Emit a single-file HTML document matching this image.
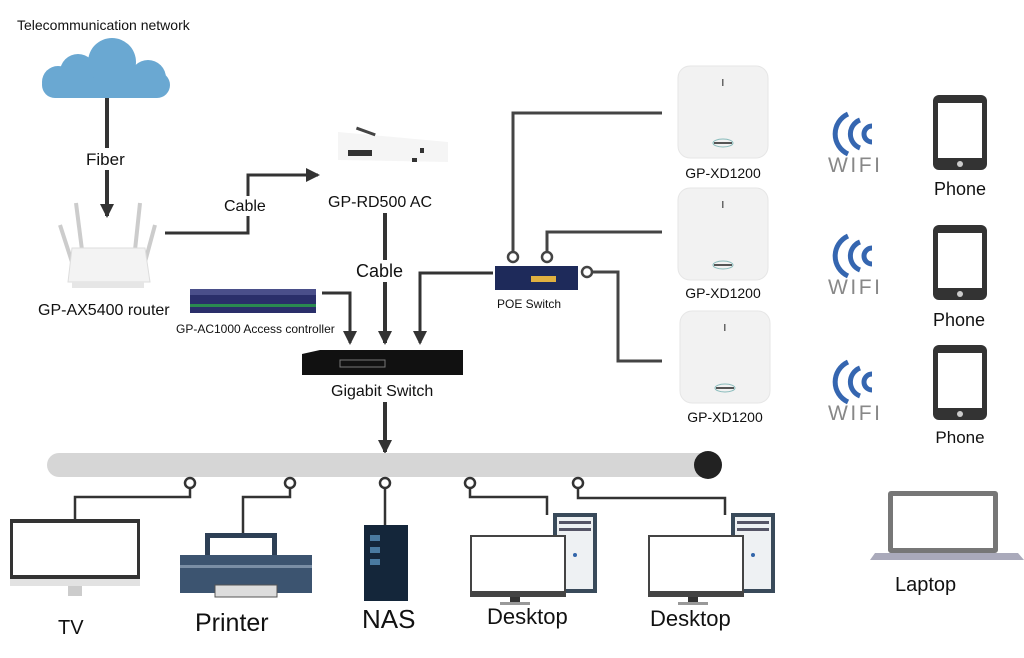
<!DOCTYPE html>
<html><head><meta charset="utf-8"><style>
html,body{margin:0;padding:0;background:#fff;}
svg{display:block;}
text{font-family:"Liberation Sans",sans-serif;fill:#111;}
</style></head><body>
<svg width="1024" height="658" viewBox="0 0 1024 658" xmlns="http://www.w3.org/2000/svg">
<defs>
<marker id="ar" markerWidth="14" markerHeight="14" refX="12" refY="7" orient="auto" markerUnits="userSpaceOnUse">
<path d="M0,0 L14,7 L0,14 z" fill="#333"/></marker>
<g id="ap"><rect x="0" y="0" width="90" height="92" rx="12" fill="#f2f2f2" stroke="#e6e6e6"/><rect x="44" y="13" width="1.5" height="7" fill="#666"/><ellipse cx="45" cy="77" rx="10" ry="4" fill="none" stroke="#8bb" stroke-width="1"/><rect x="36" y="76" width="18" height="2" fill="#555"/></g>
<g id="wifi"><path d="M18,4 A22,22 0 0 0 18,44" fill="none" stroke="#3566b0" stroke-width="5"/><path d="M30,10 A15,15 0 0 0 30,38" fill="none" stroke="#3566b0" stroke-width="5"/><path d="M42,16 A8,8 0 0 0 42,32" fill="none" stroke="#3566b0" stroke-width="5"/><text x="-2" y="62" font-size="21" style="fill:#888" textLength="52">WIFI</text></g>
<g id="phone"><rect x="0" y="0" width="54" height="75" rx="6" fill="#333"/><rect x="5" y="8" width="44" height="55" fill="#fff"/><circle cx="27" cy="69" r="3" fill="#ccc"/></g>
<g id="desk"><rect x="83" y="0" width="44" height="80" fill="#394a5a"/><rect x="87" y="4" width="36" height="72" fill="#eef1f3"/><rect x="89" y="8" width="32" height="3" fill="#556"/><rect x="89" y="15" width="32" height="3" fill="#556"/><circle cx="105" cy="42" r="2" fill="#36a"/><rect x="0" y="22" width="96" height="62" fill="#444"/><rect x="2" y="24" width="92" height="54" fill="#fff"/><rect x="40" y="84" width="10" height="5" fill="#333"/><rect x="30" y="89" width="30" height="3" fill="#999"/></g>
</defs>

<text x="17" y="30" font-size="14">Telecommunication network</text>
<!-- cloud -->
<g fill="#6aa8d2"><rect x="42" y="72" width="128" height="26" rx="13"/><circle cx="78" cy="72" r="18"/><circle cx="112" cy="62" r="24"/><circle cx="148" cy="78" r="18"/><circle cx="58" cy="82" r="16"/></g>
<line x1="107" y1="98" x2="107" y2="216" stroke="#333" stroke-width="4" marker-end="url(#ar)"/>
<rect x="84" y="148" width="48" height="22" fill="#fff"/>
<text x="86" y="165" font-size="17">Fiber</text>
<!-- router -->
<g stroke="#ccc" stroke-width="4"><line x1="60" y1="225" x2="72" y2="262"/><line x1="76" y1="203" x2="82" y2="250"/><line x1="140" y1="203" x2="135" y2="250"/><line x1="155" y1="225" x2="145" y2="262"/></g>
<path d="M72,248 L145,248 L150,282 L68,282 z" fill="#f3f3f3" stroke="#ddd"/>
<rect x="72" y="282" width="72" height="6" fill="#e6e6e6"/>
<text x="38" y="315" font-size="16">GP-AX5400 router</text>
<!-- cable to RD500 -->
<polyline points="165,233 248,233 248,175 318,175" fill="none" stroke="#333" stroke-width="3" marker-end="url(#ar)"/>
<rect x="222" y="196" width="50" height="20" fill="#fff"/>
<text x="224" y="211" font-size="16">Cable</text>
<!-- RD500 -->
<g><path d="M338,132 L448,142 L448,162 L338,160 z" fill="#f5f5f5"/><rect x="348" y="150" width="24" height="6" fill="#333"/><rect x="356" y="130" width="20" height="3" fill="#444" transform="rotate(20 366 131)"/><rect x="420" y="148" width="4" height="5" fill="#333"/><rect x="412" y="158" width="5" height="4" fill="#333"/></g>
<text x="328" y="207" font-size="16">GP-RD500 AC</text>
<line x1="385" y1="213" x2="385" y2="343" stroke="#333" stroke-width="4" marker-end="url(#ar)"/>
<rect x="354" y="260" width="56" height="22" fill="#fff"/>
<text x="356" y="277" font-size="18">Cable</text>
<!-- AC1000 -->
<rect x="190" y="289" width="126" height="24" fill="#2a2f6a"/><rect x="190" y="289" width="126" height="6" fill="#4a4f8a"/><rect x="190" y="304" width="126" height="3" fill="#2a8a50"/>
<text x="176" y="333" font-size="12">GP-AC1000 Access controller</text>
<polyline points="322,293 350,293 350,343" fill="none" stroke="#333" stroke-width="3" marker-end="url(#ar)"/>
<polyline points="493,273 420,273 420,343" fill="none" stroke="#333" stroke-width="3" marker-end="url(#ar)"/>
<!-- gigabit switch -->
<path d="M302,354 L320,350 L463,350 L463,375 L302,375 z" fill="#111"/>
<rect x="340" y="360" width="45" height="7" fill="none" stroke="#777" stroke-width="1"/>
<text x="331" y="396" font-size="16">Gigabit Switch</text>
<line x1="385" y1="402" x2="385" y2="452" stroke="#333" stroke-width="4" marker-end="url(#ar)"/>
<!-- bus -->
<rect x="47" y="453" width="670" height="24" rx="12" fill="#d6d6d6"/>
<circle cx="708" cy="465" r="14" fill="#222"/>
<g fill="none" stroke="#333" stroke-width="2.5">
<polyline points="190,488 190,497 75,497 75,520"/>
<polyline points="290,488 290,497 243,497 243,533"/>
<polyline points="385,488 385,525"/>
<polyline points="470,488 470,497 547,497 547,515"/>
<polyline points="578,488 578,498 725,498 725,515"/>
</g>
<g fill="#fff" stroke="#333" stroke-width="2.5"><circle cx="190" cy="483" r="5"/><circle cx="290" cy="483" r="5"/><circle cx="385" cy="483" r="5"/><circle cx="470" cy="483" r="5"/><circle cx="578" cy="483" r="5"/></g>
<!-- TV -->
<rect x="10" y="519" width="130" height="60" fill="#333"/><rect x="13" y="523" width="124" height="52" fill="#fff"/><rect x="10" y="579" width="130" height="7" fill="#e2e2e2"/><rect x="68" y="586" width="14" height="10" fill="#ccc"/>
<text x="58" y="634" font-size="20">TV</text>
<!-- printer -->
<rect x="205" y="533" width="72" height="22" fill="#2d3f55"/><rect x="210" y="538" width="62" height="17" fill="#fff"/><rect x="180" y="555" width="132" height="38" fill="#3c5470"/><rect x="180" y="565" width="132" height="3" fill="#7a8ea5"/><rect x="215" y="585" width="62" height="12" fill="#ddd" stroke="#555"/>
<text x="195" y="631" font-size="25">Printer</text>
<!-- NAS -->
<rect x="364" y="525" width="44" height="76" fill="#14263a"/><rect x="370" y="535" width="10" height="6" fill="#4a7aa0"/><rect x="370" y="547" width="10" height="6" fill="#4a7aa0"/><rect x="370" y="559" width="10" height="6" fill="#4a7aa0"/>
<text x="362" y="628" font-size="26">NAS</text>
<use href="#desk" x="470" y="513"/>
<use href="#desk" x="648" y="513"/>
<text x="487" y="624" font-size="22">Desktop</text>
<text x="650" y="626" font-size="22">Desktop</text>
<!-- laptop -->
<rect x="888" y="491" width="110" height="62" rx="3" fill="#777"/><rect x="893" y="496" width="100" height="52" fill="#fff"/><path d="M875,553 L1018,553 L1024,560 L870,560 z" fill="#aab"/>
<text x="895" y="591" font-size="20">Laptop</text>
<!-- POE switch -->
<rect x="495" y="266" width="83" height="24" fill="#1e2a5a"/><rect x="531" y="276" width="25" height="6" fill="#e0b040"/>
<text x="497" y="308" font-size="12">POE Switch</text>
<g fill="none" stroke="#444" stroke-width="3">
<polyline points="513,252 513,113 662,113"/>
<polyline points="547,252 547,232 662,232"/>
<polyline points="592,272 618,272 618,361 662,361"/>
</g>
<g fill="#fff" stroke="#444" stroke-width="2.5"><circle cx="513" cy="257" r="5"/><circle cx="547" cy="257" r="5"/><circle cx="587" cy="272" r="5"/></g>
<!-- APs -->
<use href="#ap" x="678" y="66"/><use href="#ap" x="678" y="188"/><use href="#ap" x="680" y="311"/>
<text x="723" y="178" font-size="14" text-anchor="middle">GP-XD1200</text>
<text x="723" y="298" font-size="14" text-anchor="middle">GP-XD1200</text>
<text x="725" y="422" font-size="14" text-anchor="middle">GP-XD1200</text>
<use href="#wifi" x="830" y="110"/><use href="#wifi" x="830" y="232"/><use href="#wifi" x="830" y="358"/>
<use href="#phone" x="933" y="95"/><use href="#phone" x="933" y="225"/><use href="#phone" x="933" y="345"/>
<text x="960" y="195" font-size="18" text-anchor="middle">Phone</text>
<text x="959" y="326" font-size="18" text-anchor="middle">Phone</text>
<text x="960" y="443" font-size="17" text-anchor="middle">Phone</text>
</svg>
</body></html>
